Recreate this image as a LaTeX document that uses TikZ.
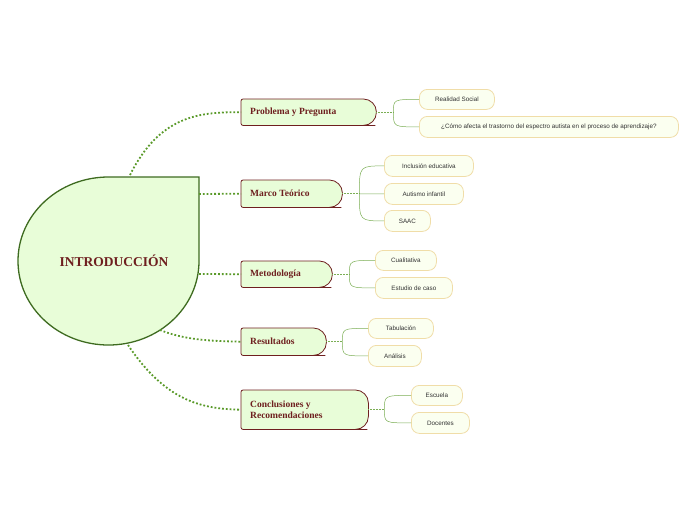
\documentclass[tikz,border=0pt]{standalone}
\usepackage{fontspec}
\setmainfont{Liberation Serif}
\newfontfamily\subfont{Liberation Sans}
\begin{document}
\begin{tikzpicture}[x=1pt,y=-1pt,
  mainbox/.style={draw=none,inner sep=0pt,anchor=north west,font=\bfseries\fontsize{9.5}{11}\selectfont,text=main,align=left},
  subbox/.style={draw=subb,fill=subf,rounded corners=8pt,line width=0.8pt,inner sep=0pt,anchor=north west,font=\subfont\fontsize{6.3}{7}\selectfont,text=black!80},
  trunk/.style={draw=lnk,line width=1.8pt,dotted},
  twig/.style={draw=lnk!80,line width=0.5pt}]
\definecolor{main}{HTML}{6E1F1F}
\definecolor{fillg}{HTML}{E8FDD8}
\definecolor{edge}{HTML}{3E6B20}
\definecolor{lnk}{HTML}{5A9A2A}
\definecolor{subb}{HTML}{F0DDA8}
\definecolor{subf}{HTML}{FBFFF0}
\useasboundingbox (0,0) rectangle (696,520);
% central
\draw[edge,fill=fillg,line width=1.3pt] (108,177) -- (199,177) -- (199,261) arc[start angle=0,end angle=270,x radius=90.5,y radius=84] -- cycle;
\node[font=\bfseries\fontsize{13.5}{15}\selectfont,text=main] (c) at (114,261) {INTRODUCCIÓN};
% main boxes
\newcommand{\mainbx}[6]{%
 \node[mainbox,minimum width=#4,minimum height=#5] (#1) at (#2,#3) {};
 \draw[main,fill=fillg,line width=0.8pt] (#1.north west) [rounded corners=2pt] -- ([xshift=-14pt]#1.north east) [rounded corners=13pt] -- (#1.north east) -- (#1.south east) -- ([xshift=-14pt]#1.south east)[rounded corners=2pt] -- (#1.south west) -- cycle;
 \node[mainbox,font=\bfseries\fontsize{9.5}{11.5}\selectfont] at ([xshift=9pt]#1.west) [anchor=west] {#6};}
\mainbx{p}{241}{99}{135}{26}{Problema y Pregunta}
\mainbx{m}{241}{180}{101}{27}{Marco Teórico}
\mainbx{t}{241}{261}{91}{26}{Metodología}
\mainbx{r}{241}{328}{85}{27}{Resultados}
\mainbx{k}{241}{390}{127}{39}{Conclusiones y\\Recomendaciones}
% trunks
\draw[trunk] (130,175) .. controls (160,115) and (200,112) .. (p.west);
\draw[trunk] (199,194) -- (m.west);
\draw[trunk] (199,274) -- (t.west);
\draw[trunk] (160,330) .. controls (185,340) and (210,341) .. (r.west);
\draw[trunk] (128,345) .. controls (165,400) and (200,409) .. (k.west);
% subs
\newcommand{\subbx}[6]{\node[subbox,minimum width=#4,minimum height=#5,align=left,inner xsep=12pt] (#1) at (#2,#3) {#6};}
\subbx{p1}{419}{89}{75}{20}{Realidad Social}
\subbx{p2}{419}{116}{259}{21}{¿Cómo afecta el trastorno del espectro autista en el proceso de aprendizaje?}
\subbx{m1}{384}{155}{89}{21}{Inclusión educativa}
\subbx{m2}{384}{183}{79}{21}{Autismo infantil}
\subbx{m3}{384}{210}{46}{21}{SAAC}
\subbx{t1}{375}{250}{61}{20}{Cualitativa}
\subbx{t2}{375}{277}{77}{21}{Estudio de caso}
\subbx{r1}{368}{318}{65}{20}{Tabulación}
\subbx{r2}{368}{345}{53}{21}{Análisis}
\subbx{k1}{411}{385}{51}{20}{Escuela}
\subbx{k2}{411}{412}{58}{21}{Docentes}
% twigs
\newcommand{\twigs}[3]{%
 \draw[twig,densely dotted,line width=1.2pt] (#1.east) -- ++(#2,0) coordinate (#1j);
 \foreach \s in {#3} {\draw[twig] (#1j) .. controls (#1j |- \s.west) .. (\s.west);}}
\twigs{p}{17}{p1,p2}
\twigs{m}{17}{m1,m2,m3}
\twigs{t}{17}{t1,t2}
\twigs{r}{16}{r1,r2}
\twigs{k}{16}{k1,k2}
\end{tikzpicture}
\end{document}
